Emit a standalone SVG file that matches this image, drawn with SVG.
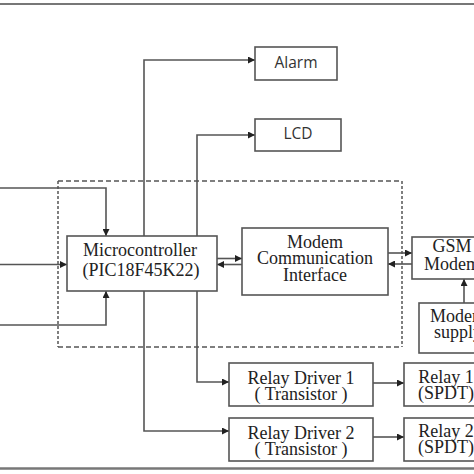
<svg xmlns="http://www.w3.org/2000/svg" width="474" height="474" viewBox="0 0 474 474">
<defs>
<marker id="ah" viewBox="0 0 10 10" refX="10" refY="5" markerWidth="8" markerHeight="7" markerUnits="userSpaceOnUse" orient="auto">
<path d="M0,0 L10,5 L0,10 z" fill="#222"/>
</marker>
<style>
.box{fill:#fff;stroke:#555;stroke-width:1.6}
.arr{fill:none;stroke:#555;stroke-width:1.6;marker-end:url(#ah)}
.t{font-family:"Liberation Serif","Times New Roman",serif;font-size:18px;fill:#222;text-anchor:middle}
.s{font-family:"Open Sans","Liberation Sans",sans-serif;font-size:15.5px;fill:#333;text-anchor:middle}
.dh{fill:none;stroke:#555;stroke-width:1.5;stroke-dasharray:5 3}
.dv{fill:none;stroke:#555;stroke-width:1.5;stroke-dasharray:3 2}
</style>
</defs>
<rect width="474" height="474" fill="#fff"/>
<line x1="0" y1="4" x2="474" y2="4" stroke="#777" stroke-width="2"/>
<line x1="0" y1="468.5" x2="474" y2="468.5" stroke="#777" stroke-width="2.5"/>

<g id="boundary">
<line class="dh" x1="58" y1="181" x2="402" y2="181"/>
<line class="dh" x1="58" y1="347" x2="402" y2="347"/>
<line class="dv" x1="58" y1="181" x2="58" y2="347"/>
<line class="dv" x1="402" y1="181" x2="402" y2="347"/>
</g>

<g id="connectors">
<path class="arr" d="M0,188 H106 V236"/>
<path class="arr" d="M0,264.5 H67"/>
<path class="arr" d="M0,325 H106 V291"/>
<path class="arr" d="M144,236 V60 H255"/>
<path class="arr" d="M197,236 V135 H255"/>
<path class="arr" d="M144,291 V431 H229"/>
<path class="arr" d="M197,291 V382 H229"/>
<path class="arr" d="M217,258.5 H242"/>
<path class="arr" d="M242,264.5 H217"/>
<path class="arr" d="M388,253 H412"/>
<path class="arr" d="M412,264 H388"/>
<path class="arr" d="M464,303 V279"/>
<path class="arr" d="M373,383 H404"/>
<path class="arr" d="M373,437 H404"/>
</g>

<g id="alarm">
<rect class="box" x="255" y="47" width="82" height="33"/>
<text class="s" x="296" y="68">Alarm</text>
</g>
<g id="lcd">
<rect class="box" x="255" y="119" width="86" height="32"/>
<text class="s" x="298" y="139">LCD</text>
</g>
<g id="microcontroller">
<rect class="box" x="67" y="236" width="150" height="55"/>
<text class="t" x="140" y="256">Microcontroller</text>
<text class="t" x="141" y="276">(PIC18F45K22)</text>
</g>
<g id="mci">
<rect class="box" x="242" y="228" width="146" height="67"/>
<text class="t" x="315" y="248">Modem</text>
<text class="t" x="315" y="264">Communication</text>
<text class="t" x="315" y="281">Interface</text>
</g>
<g id="gsm">
<rect class="box" x="412" y="237" width="80" height="42"/>
<text class="t" x="452" y="252">GSM</text>
<text class="t" x="452" y="270">Modem</text>
</g>
<g id="supply">
<rect class="box" x="419" y="303" width="78" height="50"/>
<text class="t" x="458" y="322">Modem</text>
<text class="t" x="458" y="338">supply</text>
</g>
<g id="driver1">
<rect class="box" x="229" y="363" width="144" height="43"/>
<text class="t" x="301" y="384">Relay Driver 1</text>
<text class="t" x="301" y="400">( Transistor )</text>
</g>
<g id="driver2">
<rect class="box" x="229" y="418" width="144" height="43"/>
<text class="t" x="301" y="439">Relay Driver 2</text>
<text class="t" x="301" y="455">( Transistor )</text>
</g>
<g id="relay1">
<rect class="box" x="404" y="363" width="84" height="43"/>
<text class="t" x="446" y="383">Relay 1</text>
<text class="t" x="446" y="399">(SPDT)</text>
</g>
<g id="relay2">
<rect class="box" x="404" y="418" width="84" height="43"/>
<text class="t" x="446" y="437">Relay 2</text>
<text class="t" x="446" y="453">(SPDT)</text>
</g>
</svg>
